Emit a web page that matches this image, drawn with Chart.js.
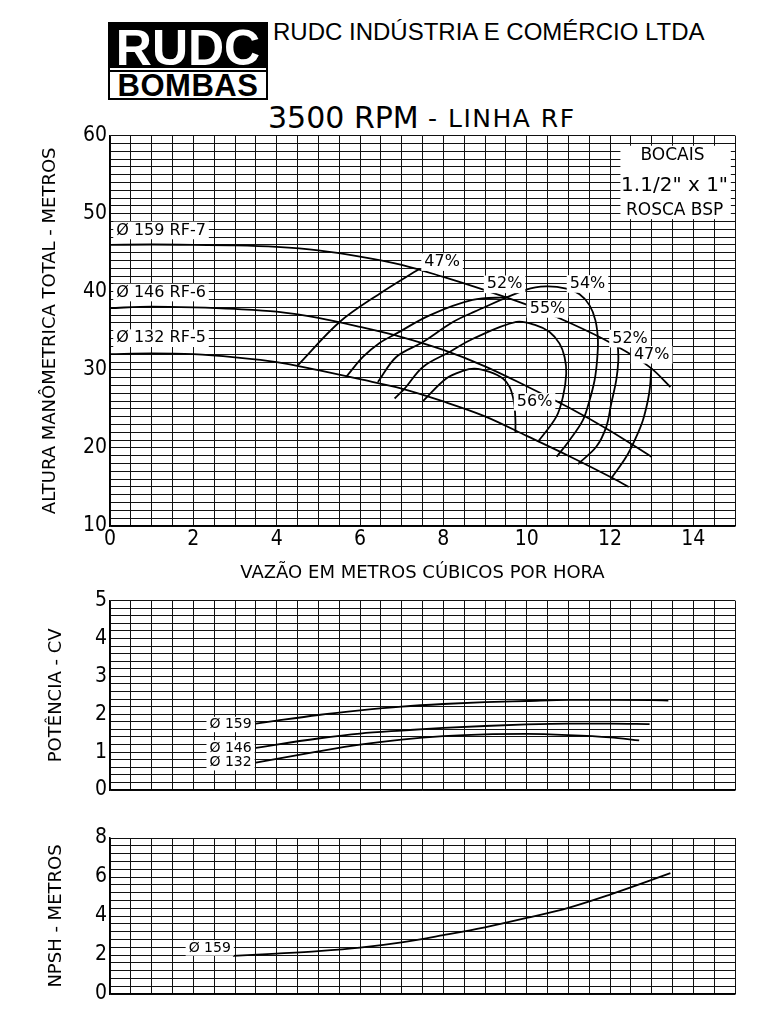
<!DOCTYPE html>
<html>
<head>
<meta charset="utf-8">
<script src="https://cdn.jsdelivr.net/npm/chart.js@4.4.1/dist/chart.umd.min.js"></script>
<style>
  html, body { margin: 0; padding: 0; background: #fff; }
  #page { position: relative; width: 768px; height: 1024px; overflow: hidden; background: #fff; }
  canvas { position: absolute; left: 0; }
  #logo { position: absolute; left: 108px; top: 22px; width: 160px; height: 78px; background: #000; box-sizing: border-box; border: 2px solid #000; }
  #logo .top { height: 44px; color: #fff; font: bold 50px 'Liberation Sans', Arial, sans-serif; line-height: 48px; text-align: center; border-bottom: 2px solid #fff; }
  #logo .bot { margin-top: 2px; height: 26px; background: #fff; color: #000; font: bold 31px 'Liberation Sans', Arial, sans-serif; line-height: 28px; text-align: center; letter-spacing: 0.5px; overflow: hidden; }
  #company { position: absolute; left: 273px; top: 20px; font: 24px 'Liberation Sans', Arial, sans-serif; line-height: 1; color: #000; white-space: nowrap; }
  #rpm { position: absolute; left: 268px; top: 103px; font: 30px 'DejaVu Sans', sans-serif; line-height: 1; color: #000; white-space: nowrap; }
  #linha { position: absolute; left: 428px; top: 106px; font: 25px 'DejaVu Sans', sans-serif; letter-spacing: 1.5px; line-height: 1; color: #000; white-space: nowrap; }
</style>
</head>
<body>
<div id="page">
  <div id="logo"><div class="top">RUDC</div><div class="bot">BOMBAS</div></div>
  <div id="company">RUDC INDÚSTRIA E COMÉRCIO LTDA</div>
  <div id="rpm">3500 RPM</div>
  <div id="linha">- LINHA RF</div>
  <canvas id="cHead" width="768" height="465" style="top:120px"></canvas>
  <canvas id="cPot" width="768" height="230" style="top:585px"></canvas>
  <canvas id="cNpsh" width="768" height="209" style="top:815px"></canvas>
</div>
<script>
// Tick labels
const qTicks = [0, 2, 4, 6, 8, 10, 12, 14];
const hTicks = [10, 20, 30, 40, 50, 60];
const pTicks = [0, 1, 2, 3, 4, 5];
const nTicks = [0, 2, 4, 6, 8];

// Altura x vazão por rotor
const q159 = [0, 1, 2, 3, 4, 5, 6, 7, 8, 9, 10, 11, 12, 13, 13.45];
const h159 = [46.0, 46.05, 46.0, 45.95, 45.75, 45.3, 44.5, 43.45, 41.9, 40.2, 38.35, 36.1, 33.5, 30.15, 27.8];
const q146 = [0, 1, 2, 3, 4, 5, 6, 7, 8, 9, 10, 11, 12, 13];
const h146 = [37.9, 38.1, 38.0, 37.8, 37.45, 36.65, 35.5, 34.2, 32.55, 30.45, 27.9, 25.2, 22.2, 18.85];
const q132 = [0, 1, 2, 3, 4, 5, 6, 7, 8, 9, 10, 11, 12, 12.45];
const h132 = [32.0, 32.1, 32.0, 31.6, 31.0, 29.95, 28.8, 27.6, 25.95, 24.05, 21.55, 19.0, 16.3, 15.0];

// Curvas de rendimento
const e47aQ = [4.51, 5.51, 6.47, 7.43];
const e47aH = [30.6, 36.13, 39.76, 42.95];
const e52aQ = [5.67, 6.07, 6.47, 6.87, 7.67, 8.7, 9.55];
const e52aH = [29.1, 31.65, 33.44, 34.64, 36.98, 38.95, 39.3];
const e54Q = [6.43, 6.87, 7.51, 8.23, 8.75, 9.99, 10.47, 10.95, 11.27, 11.51, 11.65, 11.71, 11.69, 11.63, 11.51, 11.35, 11.03, 10.72];
const e54H = [28.45, 31.65, 33.57, 36.13, 37.45, 40.27, 40.69, 40.4, 39.67, 38.26, 36.34, 33.78, 31.23, 28.67, 26.11, 23.55, 20.99, 18.86];
const e55Q = [6.83, 7.07, 7.51, 8.15, 8.7, 9.75, 10.23, 10.55, 10.79, 10.91, 10.95, 10.87, 10.71, 10.27];
const e55H = [26.33, 27.6, 30.37, 32.29, 33.95, 36.13, 35.7, 34.85, 33.36, 31.65, 29.53, 26.53, 23.97, 20.78];
const e56Q = [7.51, 8.07, 8.47, 8.75, 9.11, 9.43, 9.59, 9.67, 9.71, 9.73, 9.73];
const e56H = [25.98, 28.89, 29.86, 30.15, 29.73, 28.89, 27.81, 26.53, 25.26, 23.55, 21.93];
const e52bQ = [12.19, 12.2, 12.15, 12.03, 11.91, 11.67, 11.23];
const e52bH = [32.93, 31.23, 28.67, 25.69, 22.7, 20.14, 17.93];
const e47bQ = [12.99, 12.96, 12.91, 12.79, 12.63, 12.39, 12.03];
const e47bH = [30.17, 27.81, 26.11, 23.55, 21.42, 18.86, 16.1];

// Potência (CV)
const pq159 = [3.5, 4, 5, 6, 7, 8, 9, 10, 11, 12, 13, 13.4];
const p159 = [1.75, 1.83, 1.98, 2.1, 2.2, 2.27, 2.32, 2.35, 2.38, 2.38, 2.37, 2.36];
const pq146 = [3.5, 4, 5, 6, 7, 8, 9, 10, 11, 12, 12.95];
const p146 = [1.11, 1.2, 1.36, 1.49, 1.57, 1.64, 1.69, 1.73, 1.75, 1.75, 1.74];
const pq132 = [3.5, 4, 5, 6, 7, 8, 9, 10, 11, 12, 12.7];
const p132 = [0.72, 0.82, 1.02, 1.2, 1.33, 1.42, 1.47, 1.48, 1.45, 1.39, 1.31];

// NPSH requerido
const nq159 = [2.95, 4, 5, 6, 7, 8, 9, 10, 11, 12, 13, 13.45];
const n159 = [1.95, 2.07, 2.2, 2.38, 2.65, 3.02, 3.42, 3.9, 4.42, 5.1, 5.85, 6.2];

const textFont = "'DejaVu Sans', sans-serif";
const tickFont = { family: "'DejaVu Sans Condensed', 'DejaVu Sans', sans-serif", size: 21 };

function pts(xs, ys) {
    return xs.map((x, i) => ({ x, y: ys[i] }));
}

// mono = true for curves where vazão only grows (rotor, potência, NPSH)
function curve(xs, ys, mono) {
    const ds = {
        data: pts(xs, ys),
        showLine: true,
        borderColor: '#000',
        borderWidth: 1.8,
        pointRadius: 0,
        fill: false
    };
    if (mono) ds.cubicInterpolationMode = 'monotone';
    else ds.tension = 0.35;
    return ds;
}

function isTick(list, v) {
    return list.some(t => Math.abs(t - v) < 1e-6);
}

function xAxis(height, title) {
    return {
        type: 'linear', min: 0, max: 15,
        afterFit: s => { s.height = height; },
        grid: { color: '#111', lineWidth: 1, drawTicks: false },
        border: { color: '#000', width: 1.5 },
        ticks: {
            stepSize: 0.5, autoSkip: false, maxRotation: 0, padding: 1, color: '#000', font: tickFont,
            display: !!title,
            callback: v => isTick(qTicks, v) ? String(v) : ''
        },
        title: title
            ? { display: true, text: title, color: '#000', font: { family: textFont, size: 18 }, padding: { top: 0, bottom: 1 } }
            : { display: false }
    };
}

function yAxis(min, max, step, labels, title, titleX) {
    const size = 18;
    return {
        min, max,
        afterFit: s => { s.width = 110; },
        grid: { color: '#111', lineWidth: 1, drawTicks: false },
        border: { color: '#000', width: 1.5 },
        ticks: {
            stepSize: step, autoSkip: false, padding: 3, color: '#000', font: tickFont,
            callback: v => isTick(labels, v) ? String(Math.round(v)) : ''
        },
        title: {
            display: true, text: title, color: '#000', font: { family: textFont, size },
            padding: { top: titleX - size * 0.6, bottom: 0 }
        }
    };
}

// White-boxed text labels placed in data units
function tagPlugin(items, boxes) {
    return {
        id: 'tags',
        afterDatasetsDraw(chart) {
            const { ctx, scales: { x, y } } = chart;
            ctx.save();
            (boxes || []).forEach(b => {
                const x0 = x.getPixelForValue(b.x0), x1 = x.getPixelForValue(b.x1);
                const y0 = y.getPixelForValue(b.y0), y1 = y.getPixelForValue(b.y1);
                ctx.fillStyle = '#fff';
                ctx.fillRect(Math.min(x0, x1), Math.min(y0, y1), Math.abs(x1 - x0), Math.abs(y1 - y0));
            });
            items.forEach(t => {
                ctx.font = t.size + 'px ' + textFont;
                const w = ctx.measureText(t.text).width;
                const px = x.getPixelForValue(t.x), py = y.getPixelForValue(t.y);
                const left = t.align === 'left' ? px : t.align === 'right' ? px - w : px - w / 2;
                if (!t.plain) {
                    ctx.fillStyle = '#fff';
                    ctx.fillRect(left - 3, py - t.size * 0.55, w + 6, t.size * 1.1);
                }
                ctx.fillStyle = '#000';
                ctx.textBaseline = 'middle';
                ctx.textAlign = 'left';
                ctx.fillText(t.text, left, py);
            });
            ctx.restore();
        }
    };
}

const baseOptions = {
    responsive: false,
    animation: false,
    events: [],
    plugins: { legend: { display: false }, tooltip: { enabled: false } }
};

// Altura manométrica
new Chart(document.getElementById('cHead'), {
    type: 'scatter',
    data: {
        datasets: [
            curve(q159, h159, true), curve(q146, h146, true), curve(q132, h132, true),
            curve(e47aQ, e47aH), curve(e52aQ, e52aH), curve(e54Q, e54H),
            curve(e55Q, e55H), curve(e56Q, e56H), curve(e52bQ, e52bH), curve(e47bQ, e47bH)
        ]
    },
    options: {
        ...baseOptions,
        layout: { padding: { top: 15, right: 33, left: 0, bottom: 0 } },
        scales: {
            x: xAxis(59, 'VAZÃO EM METROS CÚBICOS POR HORA'),
            y: yAxis(10, 60, 1, hTicks, 'ALTURA MANÔMETRICA TOTAL - METROS', 50)
        }
    },
    plugins: [tagPlugin([
        { text: 'Ø 159 RF-7', x: 0.15, y: 47.85, size: 16, align: 'left' },
        { text: 'Ø 146 RF-6', x: 0.15, y: 39.9, size: 16, align: 'left' },
        { text: 'Ø 132 RF-5', x: 0.15, y: 34.05, size: 16, align: 'left' },
        { text: '47%', x: 7.97, y: 43.8, size: 16 },
        { text: '52%', x: 9.47, y: 40.95, size: 16 },
        { text: '54%', x: 11.46, y: 41.0, size: 16 },
        { text: '55%', x: 10.5, y: 37.8, size: 16 },
        { text: '52%', x: 12.48, y: 34.0, size: 16 },
        { text: '47%', x: 13.0, y: 31.93, size: 16 },
        { text: '56%', x: 10.19, y: 25.9, size: 16 },
        { text: 'BOCAIS', x: 13.5, y: 57.45, size: 17, plain: true },
        { text: '1.1/2" x 1"', x: 13.55, y: 53.6, size: 20, plain: true },
        { text: 'ROSCA BSP', x: 13.55, y: 50.4, size: 17, plain: true }
    ], [
        { x0: 12.25, x1: 14.9, y0: 58.7, y1: 49.3 }
    ])]
});

// Potência
new Chart(document.getElementById('cPot'), {
    type: 'scatter',
    data: { datasets: [curve(pq159, p159, true), curve(pq146, p146, true), curve(pq132, p132, true)] },
    options: {
        ...baseOptions,
        layout: { padding: { top: 14, right: 33, left: 0, bottom: 0 } },
        scales: {
            x: xAxis(25, null),
            y: yAxis(0, 5, 0.2, pTicks, 'POTÊNCIA - CV', 56)
        }
    },
    plugins: [tagPlugin([
        { text: 'Ø 159', x: 3.4, y: 1.73, size: 14, align: 'right' },
        { text: 'Ø 146', x: 3.4, y: 1.11, size: 14, align: 'right' },
        { text: 'Ø 132', x: 3.4, y: 0.72, size: 14, align: 'right' }
    ])]
});

// NPSH
new Chart(document.getElementById('cNpsh'), {
    type: 'scatter',
    data: { datasets: [curve(nq159, n159, true)] },
    options: {
        ...baseOptions,
        layout: { padding: { top: 23, right: 33, left: 0, bottom: 0 } },
        scales: {
            x: xAxis(30, null),
            y: yAxis(0, 8, 0.4, nTicks, 'NPSH - METROS', 56)
        }
    },
    plugins: [tagPlugin([
        { text: 'Ø 159', x: 2.9, y: 2.36, size: 14, align: 'right' }
    ])]
});
</script>
</body>
</html>
